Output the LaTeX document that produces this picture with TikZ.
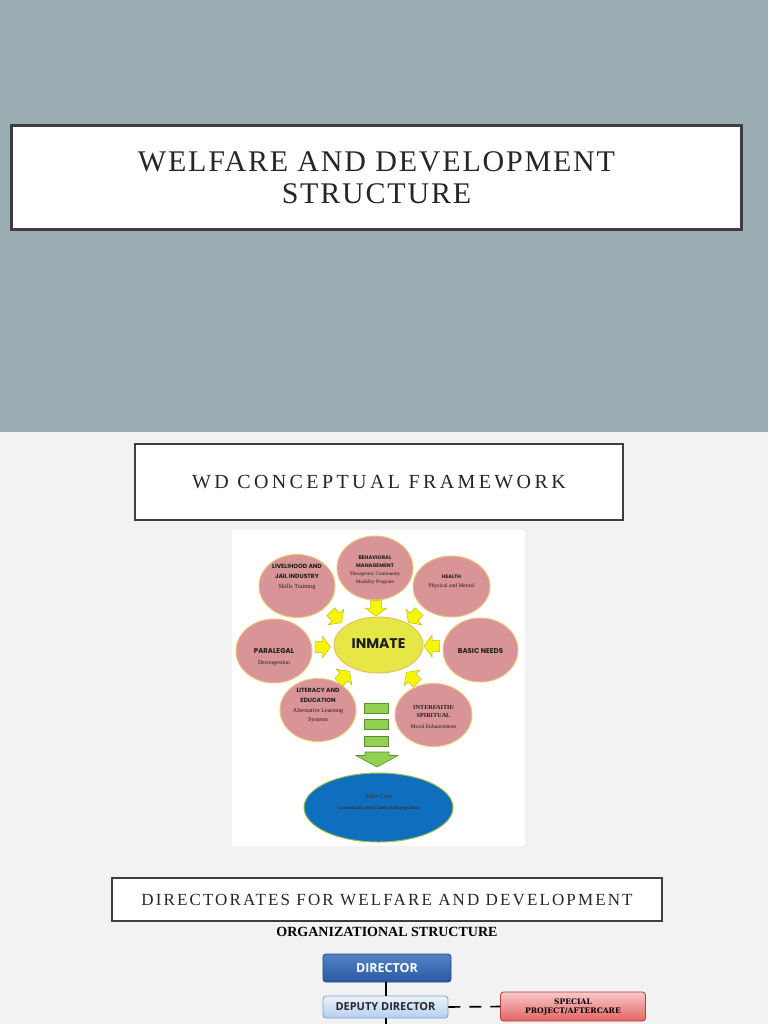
\documentclass[tikz,border=0pt]{standalone}
\usepackage{fontspec}
\setmainfont{Liberation Serif}
\newfontfamily\spacedA[LetterSpace=6]{Liberation Serif}
\newfontfamily\spacedB[LetterSpace=17]{Liberation Serif}
\newfontfamily\spacedC[LetterSpace=12.5]{Liberation Serif}
\newfontfamily\gothic{Poppins}
\newfontfamily\osans{Open Sans}
\newfontfamily\wideserif{DejaVu Serif}
\usetikzlibrary{shapes.geometric}
\definecolor{topbg}{RGB}{156,173,179}
\definecolor{botbg}{RGB}{242,242,242}
\definecolor{boxline}{RGB}{60,62,66}
\definecolor{pinkf}{RGB}{216,148,150}
\definecolor{pinkb}{RGB}{232,200,120}
\definecolor{inmatef}{RGB}{230,230,70}
\definecolor{inmateb}{RGB}{232,190,90}
\definecolor{arrowf}{RGB}{246,246,0}
\definecolor{arrowb}{RGB}{190,190,40}
\definecolor{greenf}{RGB}{146,208,80}
\definecolor{greenb}{RGB}{90,140,50}
\definecolor{bluef}{RGB}{16,110,190}
\definecolor{blueb}{RGB}{150,190,70}
\definecolor{dirtop}{RGB}{84,130,200}
\definecolor{dirbot}{RGB}{40,90,160}
\definecolor{deptop}{RGB}{236,244,252}
\definecolor{depbot}{RGB}{180,206,240}
\definecolor{depb}{RGB}{130,160,210}
\definecolor{sptop}{RGB}{250,200,200}
\definecolor{spbot}{RGB}{226,100,100}
\definecolor{spb}{RGB}{180,60,60}
\definecolor{txt}{RGB}{30,30,30}
\newcommand{\cbox}[1]{\parbox{110pt}{\centering #1}}
\tikzset{
  framebox/.style={draw=boxline, fill=white, line width=1.6pt, inner sep=0pt, text=black!85},
  pinkc/.style={ellipse, draw=pinkb, fill=pinkf, line width=1pt, inner sep=0pt},
  ctext/.style={inner sep=0pt, text=txt},
  yarrow/.pic={\draw[draw=arrowb, fill=arrowf, line width=0.5pt, line join=miter]
     (-7.5,-5.5) -- (0,-5.5) -- (0,-11) -- (8,0) -- (0,11) -- (0,5.5) -- (-7.5,5.5) -- cycle;},
  greenbar/.style={draw=greenb, fill=greenf, line width=0.8pt, minimum width=24, minimum height=10, inner sep=0pt},
  orgbox/.style={rounded corners=3pt, inner sep=0pt, line width=0.8pt},
  orgline/.style={line width=1.6pt, black}
}
\begin{document}
\begin{tikzpicture}[x=1pt,y=-1pt]
\useasboundingbox (0,0) rectangle (768,1024);
\fill[topbg] (0,0) rectangle (768,432);
\fill[botbg] (0,432) rectangle (768,1024);

% title
\node[framebox, line width=2.3pt, minimum width=730, minimum height=104] (title) at (376.5,177.5)
  {\parbox{700pt}{\centering\spacedA\fontsize{30}{32}\selectfont WELFARE AND DEVELOPMENT\\STRUCTURE}};

% WD conceptual framework box
\node[framebox, line width=1.5pt, minimum width=488, minimum height=76] (wd) at (379,482)
  {\spacedB\fontsize{20}{24}\selectfont WD CONCEPTUAL FRAMEWORK};

% framework image
\fill[white] (232,530) rectangle (525,846);

\node[pinkc, minimum width=76, minimum height=63] (live) at (297,586) {};
\node[ctext] (liveT) at (297,577) {\cbox{\gothic\bfseries\fontsize{6}{10}\selectfont LIVELIHOOD AND\\JAIL INDUSTRY\\\normalfont\fontsize{6.2}{10}\selectfont Skills Training}};

\node[pinkc, minimum width=76, minimum height=64] (beh) at (375,568) {};
\node[ctext] (behT) at (375,570) {\cbox{\gothic\bfseries\fontsize{5.2}{8}\selectfont BEHAVIORAL\\MANAGEMENT\\\normalfont\fontsize{5.2}{8}\selectfont Therapeutic Community\\Modality Program}};

\node[pinkc, minimum width=77, minimum height=61] (health) at (451.5,586.5) {};
\node[ctext] (healthT) at (451.5,581.5) {\cbox{\gothic\bfseries\fontsize{5}{9}\selectfont HEALTH\\\normalfont\fontsize{5.6}{9}\selectfont Physical and Mental}};

\node[pinkc, minimum width=76, minimum height=64] (para) at (274,651) {};
\node[ctext] (paraT) at (274,657) {\cbox{\gothic\bfseries\fontsize{7}{11}\selectfont PARALEGAL\\\normalfont\fontsize{5.8}{11}\selectfont Decongestion}};

\node[pinkc, minimum width=75, minimum height=64] (basic) at (480.5,650) {};
\node[ctext] (basicT) at (480.5,651) {\gothic\bfseries\fontsize{7}{8}\selectfont BASIC NEEDS};

\node[pinkc, minimum width=76, minimum height=63] (lit) at (318,710) {};
\node[ctext] (litT) at (318,706) {\cbox{\gothic\bfseries\fontsize{6}{10}\selectfont LITERACY AND\\EDUCATION\\\normalfont\fontsize{6}{9.5}\selectfont Alternative Learning\\Systems}};

\node[pinkc, minimum width=77, minimum height=63] (faith) at (433.5,715) {};
\node[ctext] (faithT) at (433.5,717) {\cbox{\bfseries\fontsize{6.2}{8.5}\selectfont INTERFAITH/\\SPIRITUAL\\\normalfont\fontsize{5.6}{11}\selectfont Moral Enhancement}};

\node[ellipse, draw=inmateb, fill=inmatef, line width=1pt, minimum width=89, minimum height=56, inner sep=0pt] (inmate) at (378.5,645) {};
\node[ctext] (inmateT) at (378.5,643.5) {\gothic\bfseries\fontsize{14}{16}\selectfont INMATE};

% yellow arrows
\pic[rotate=-90] at (376,608) {yarrow};
\pic[rotate=-45] at (336,617) {yarrow};
\pic[rotate=-135] at (414,617) {yarrow};
\pic at (322.5,647) {yarrow};
\pic[rotate=180] at (432,646) {yarrow};
\pic[rotate=45] at (344,677) {yarrow};
\pic[rotate=135] at (412,678) {yarrow};

% green bars and arrow
\node[greenbar] (g1) at (376.5,708) {};
\node[greenbar] (g2) at (376.5,724) {};
\node[greenbar] (g3) at (376.5,741) {};
\draw[draw=greenb, fill=greenf, line width=0.6pt, line join=miter]
  (365,752) -- (389,752) -- (389,755.5) -- (398,755.5) -- (377,767) -- (356,755.5) -- (365,755.5) -- cycle;

% aftercare
\node[ellipse, draw=blueb, fill=bluef, line width=1pt, minimum width=149, minimum height=69, inner sep=0pt] (after) at (378.5,807.5) {};
\node[ctext, text=black!80] (afterT) at (378.5,802) {\cbox{\fontsize{6.4}{9}\selectfont After Care\\\bfseries\fontsize{5}{11}\selectfont Community and Family Reintegration}};

% directorates box
\node[framebox, line width=1.5pt, minimum width=550, minimum height=43] (dir) at (387,899.5)
  {\spacedC\fontsize{17}{20}\selectfont DIRECTORATES FOR WELFARE AND DEVELOPMENT};

\node[inner sep=0pt, text=black] (org) at (387,931.5) {\bfseries\fontsize{14}{16}\selectfont ORGANIZATIONAL STRUCTURE};

% org chart
\node[orgbox, draw=dirbot!80!black, top color=dirtop, bottom color=dirbot, minimum width=128, minimum height=28, text=white] (director) at (387,968)
  {\osans\bfseries\fontsize{12.5}{14}\selectfont DIRECTOR};
\node[orgbox, draw=depb, top color=deptop, bottom color=depbot, minimum width=125, minimum height=22, text=black!85] (deputy) at (385.5,1007)
  {\osans\bfseries\fontsize{11}{12}\selectfont DEPUTY DIRECTOR};
\node[orgbox, draw=spb, top color=sptop, bottom color=spbot, minimum width=145, minimum height=29, text=black] (special) at (573,1006.5)
  {\parbox{140pt}{\centering\wideserif\bfseries\fontsize{7.6}{9}\selectfont SPECIAL\\PROJECT/AFTERCARE}};
\coordinate (bottomend) at (386,1024);
\draw[orgline] (director.south -| bottomend) -- (deputy.north -| bottomend);
\draw[orgline] (deputy.south -| bottomend) -- (bottomend);
\draw[orgline, dash pattern=on 12pt off 9pt] (deputy.east) -- (special.west);
\end{tikzpicture}
\end{document}
